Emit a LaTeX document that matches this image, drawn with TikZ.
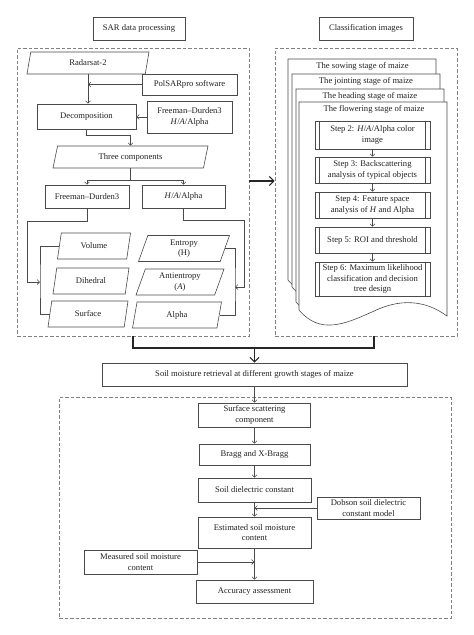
\documentclass[tikz,border=0pt]{standalone}
\usepackage{fontspec}
\setmainfont{Liberation Serif}
\usetikzlibrary{arrows.meta,shapes.geometric}
\definecolor{lc}{HTML}{4A4A4A}
\definecolor{fc}{HTML}{808080}
\definecolor{tc}{HTML}{222222}
\newcommand\mzpage[3]{% x0, ytop, ybottom-left
  \draw[pagestyle] (#1,#2) -- (#1+148,#2) -- (#1+148,#3+6)
    .. controls (#1+126,#3-10) and (#1+101,#3-12) .. (#1+73,#3+2)
    .. controls (#1+46,#3+14) and (#1+21,#3+25) .. (#1,#3) -- cycle;}
\begin{document}
\begin{tikzpicture}[x=1pt,y=-1pt,font=\fontsize{8.6}{10.5}\selectfont,text=tc,
  box/.style={draw=lc,line width=0.6pt,fill=white,inner sep=1pt,align=center},
  para/.style={trapezium,trapezium left angle=65,trapezium right angle=115,
    trapezium stretches body,draw=lc,line width=0.6pt,fill=white,inner sep=1pt,align=center},
  dashframe/.style={draw=fc,dash pattern=on 3.5pt off 2pt,line width=0.8pt,inner sep=0pt},
  pagestyle/.style={draw=lc,line width=0.6pt,fill=white},
  conn/.style={draw=lc,line width=0.6pt},
  arr/.style={draw=lc,line width=0.6pt,-{Straight Barb[length=2.5pt,width=5pt]}},
  thickline/.style={draw=black!85,line width=1.1pt},
  big/.style={draw=black!85,line width=1.1pt,-{Straight Barb[length=4.5pt,width=9pt]}}]
\useasboundingbox (0,0) rectangle (474,635);

% frames
\node[dashframe,minimum width=232,minimum height=288] (lp) at (133,192) {};
\node[dashframe,minimum width=182,minimum height=288] (rp) at (366,192) {};
\node[dashframe,minimum width=392,minimum height=221] (bp) at (255,507.5) {};

% titles
\node[box,minimum width=92,minimum height=23] (sar) at (139,28.5) {SAR data processing};
\node[box,minimum width=94,minimum height=23] (cls) at (366,28.5) {Classification images};

% left panel
\node[para,minimum width=122,minimum height=22] (radar) at (88,63) {Radarsat-2};
\node[box,minimum width=95,minimum height=21] (polsar) at (189.5,84.5) {PolSARpro software};
\node[box,minimum width=99,minimum height=25] (decomp) at (86.5,116.5) {Decomposition};
\node[box,minimum width=85,minimum height=32] (fd) at (189.5,117) {Freeman–Durden3\\\textit{H}/\textit{A}/Alpha};
\node[para,minimum width=155,minimum height=22] (three) at (130.5,157) {Three components};
\node[box,minimum width=84,minimum height=23] (fdb) at (87,196.5) {Freeman–Durden3};
\node[box,minimum width=83,minimum height=23] (hab) at (183.5,196.5) {\textit{H}/\textit{A}/Alpha};
\node[para,minimum width=73,minimum height=26] (vol) at (94,246) {Volume};
\node[para,minimum width=76,minimum height=26] (dih) at (91,281) {Dihedral};
\node[para,minimum width=80,minimum height=26] (surf) at (88,314) {Surface};
\node[para,minimum width=91,minimum height=26] (ent) at (184,248.5) {Entropy\\(H)};
\node[para,minimum width=88,minimum height=26] (anti) at (180,282) {Antientropy\\(\textit{A})};
\node[para,minimum width=89,minimum height=26] (alpha) at (177,315) {Alpha};

\coordinate (lbr) at (40,282);
\coordinate (lin) at (27,282);
\coordinate (rbr) at (235,287);
\coordinate (rin) at (244,287);

\draw[arr] (radar.south) -- (radar.south |- decomp.north);
\draw[arr] (polsar.west) -- (polsar.west -| radar.south);
\draw[arr] (fd.west) -- (decomp.east |- fd.west);
\draw[arr] (decomp.south) -- ++(0,6) -| (three.north);
\draw[conn] (three.south) -- ++(0,12) coordinate (j1);
\draw[arr] (j1) -| (fdb.north);
\draw[arr] (j1) -| (hab.north);
\draw[arr] (fdb.south) -- ++(0,13) -| (lin) -- (lbr);
\draw[conn] (vol.west) -| (lbr) |- (surf.west);
\draw[arr] (hab.south) -- ++(0,12) -| (rin) -- (rbr);
\draw[conn] (ent.east) -| (rbr) |- (alpha.east);

% right panel pages
\mzpage{288}{59}{280}
\mzpage{292}{74}{287}
\mzpage{296}{89}{302}
\mzpage{299}{102}{310}
\node (p1) at (362.5,66) {The sowing stage of maize};
\node (p2) at (366,81) {The jointing stage of maize};
\node (p3) at (370,96) {The heading stage of maize};
\node (p4) at (374,109) {The flowering stage of maize};

\node[box,minimum width=115,minimum height=28] (s2) at (372.5,135) {Step 2: \textit{H}/\textit{A}/Alpha color\\image};
\node[box,minimum width=115,minimum height=26] (s3) at (372.5,170) {Step 3: Backscattering\\analysis of typical objects};
\node[box,minimum width=115,minimum height=26] (s4) at (372.5,205) {Step 4: Feature space\\analysis of \textit{H} and Alpha};
\node[box,minimum width=115,minimum height=26] (s5) at (372.5,240) {Step 5: ROI and threshold};
\node[box,minimum width=115,minimum height=34] (s6) at (372.5,279) {Step 6: Maximum likelihood\\classification and decision\\tree design};
\foreach \s in {s2,s3,s4,s5,s6}
  \draw[conn] ([xshift=5pt]\s.north west) -- ([xshift=5pt]\s.south west)
              ([xshift=-5pt]\s.north east) -- ([xshift=-5pt]\s.south east);
\draw[arr] (s2.south) -- (s3.north);
\draw[arr] (s3.south) -- (s4.north);
\draw[arr] (s4.south) -- (s5.north);
\draw[arr] (s5.south) -- (s6.north);

% between panels
\coordinate (mid) at (0,181);
\draw[big] (lp.east |- mid) -- (rp.west |- mid);

% merge to bottom
\coordinate (jb) at (254.5,348);
\draw[thickline] (lp.south) |- (jb) -| ([xshift=8pt]rp.south);

% bottom part
\node[box,minimum width=305,minimum height=23] (soil) at (254.5,374.5) {Soil moisture retrieval at different growth stages of maize};
\draw[big] (jb) -- (soil.north);
\node[box,minimum width=112,minimum height=24] (surfsc) at (254.5,415) {Surface scattering\\component};
\node[box,minimum width=111,minimum height=21] (bragg) at (254.5,454.5) {Bragg and X-Bragg};
\node[box,minimum width=113,minimum height=24] (sdc) at (254.5,490) {Soil dielectric constant};
\node[box,minimum width=103,minimum height=22] (dobson) at (368.5,508) {Dobson soil dielectric\\constant model};
\node[box,minimum width=113,minimum height=31] (est) at (254.5,532.5) {Estimated soil moisture\\content};
\node[box,minimum width=113,minimum height=24] (meas) at (140.5,562) {Measured soil moisture\\content};
\node[box,minimum width=117,minimum height=23] (acc) at (254.5,591.5) {Accuracy assessment};

\draw[arr] (soil.south) -- (surfsc.north);
\draw[arr] (surfsc.south) -- (bragg.north);
\draw[arr] (bragg.south) -- (sdc.north);
\draw[arr] (sdc.south) -- (est.north);
\draw[arr] (dobson.west) -- (dobson.west -| sdc.south);
\draw[arr] (est.south) -- (acc.north);
\draw[arr] (meas.east) -- (meas.east -| est.south);
\end{tikzpicture}
\end{document}
